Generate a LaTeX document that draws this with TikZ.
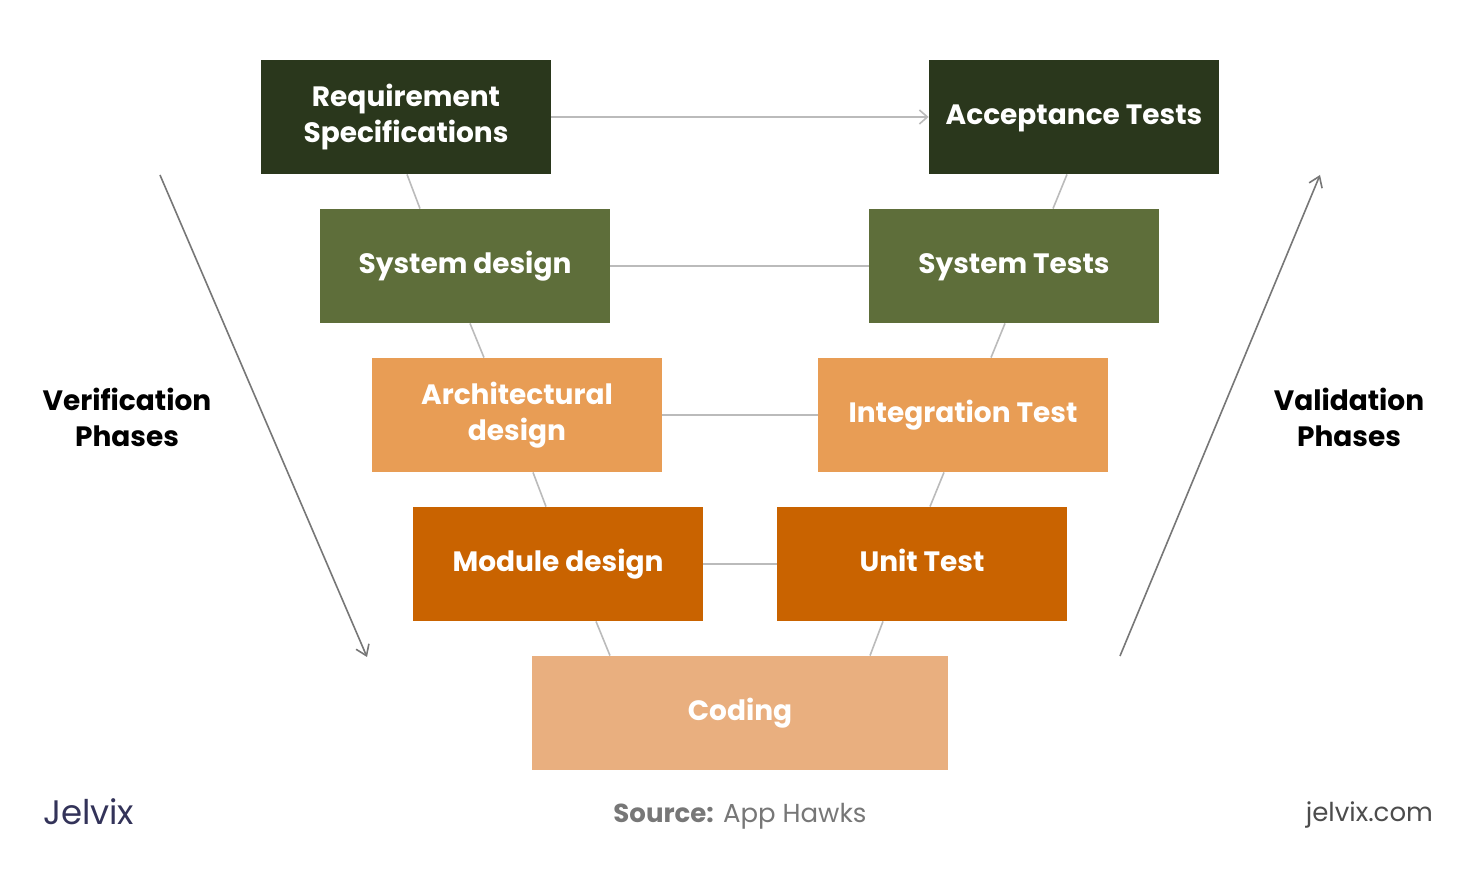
\documentclass[tikz,border=0pt]{standalone}
\usepackage{fontspec}
\setmainfont{Poppins}
\usetikzlibrary{arrows.meta}
\definecolor{cA}{HTML}{2A371C}
\definecolor{cB}{HTML}{5E6E3A}
\definecolor{cC}{HTML}{E89D55}
\definecolor{cD}{HTML}{C96300}
\definecolor{cE}{HTML}{E9AF7F}
\definecolor{ln}{HTML}{BBBBBB}
\definecolor{ar}{HTML}{777777}
\newcommand{\bt}[1]{\raisebox{-4.5pt}{\begin{tabular}{@{}c@{}}#1\end{tabular}}}
\begin{document}
\begin{tikzpicture}[x=0.5pt,y=-0.5pt,
 box/.style={minimum width=145pt,minimum height=57pt,inner sep=0pt,text=white,align=center,font=\fontsize{14}{18}\selectfont\bfseries},
 con/.style={draw=ln,line width=0.8pt},
 big/.style={draw=ar,line width=0.8pt,-{Straight Barb[length=5pt,width=7pt]}},
 lab/.style={align=center,font=\fontsize{14}{18}\selectfont\bfseries}]
\useasboundingbox[fill=white] (0,0) rectangle (1480,870);
\node[box,fill=cA] (req) at (406,117) {\bt{Requirement\\Specifications}};
\node[box,fill=cA] (acc) at (1074,117) {\bt{Acceptance Tests}};
\node[box,fill=cB] (sd) at (465,266) {\bt{System design}};
\node[box,fill=cB] (st) at (1014,266) {\bt{System Tests}};
\node[box,fill=cC] (ad) at (517,415) {\bt{Architectural\\design}};
\node[box,fill=cC] (it) at (963,415) {\bt{Integration Test}};
\node[box,fill=cD] (md) at (558,564) {\bt{Module design}};
\node[box,fill=cD] (ut) at (922,564) {\bt{Unit Test}};
\node[box,fill=cE,minimum width=208pt] (co) at (740,713) {\bt{Coding}};
\draw[con,-{Straight Barb[length=4pt,width=7pt]}] (req.east) -- (acc.west);
\draw[con] (sd) -- (st);
\draw[con] (ad) -- (it);
\draw[con] (md) -- (ut);
\draw[con] ([xshift=0.5pt]req.south) -- ([xshift=-22.5pt]sd.north);
\draw[con] ([xshift=2.5pt]sd.south) -- ([xshift=-16.5pt]ad.north);
\draw[con] ([xshift=8pt]ad.south) -- ([xshift=-6pt]md.north);
\draw[con] ([xshift=19pt]md.south) -- ([xshift=-65pt]co.north);
\draw[con] ([xshift=-3.5pt]acc.south) -- ([xshift=19.5pt]st.north);
\draw[con] ([xshift=-4.5pt]st.south) -- ([xshift=14pt]it.north);
\draw[con] ([xshift=-9.5pt]it.south) -- ([xshift=4pt]ut.north);
\draw[con] ([xshift=-19.5pt]ut.south) -- ([xshift=65pt]co.north);
\coordinate (l1) at (160,175); \coordinate (l2) at (367,657);
\coordinate (r1) at (1120,656); \coordinate (r2) at (1320,175);
\draw[big] (l1) -- (l2);
\draw[big] (r1) -- (r2);
\node[lab] (vp) at (127,417) {Verification\\Phases};
\node[lab] (vl) at (1349,417) {Validation\\Phases};
\node[font=\fontsize{17}{20}\selectfont,text=black!75!blue!60!gray,anchor=west] (logo) at (36,812) {Jelvix};
\node[font=\fontsize{13}{16}\selectfont,text=ar] (src) at (740,816) {\textbf{Source:} App Hawks};
\node[font=\fontsize{13}{16}\selectfont,text=black!70,anchor=east] (web) at (1440,815) {jelvix.com};
\end{tikzpicture}
\end{document}
